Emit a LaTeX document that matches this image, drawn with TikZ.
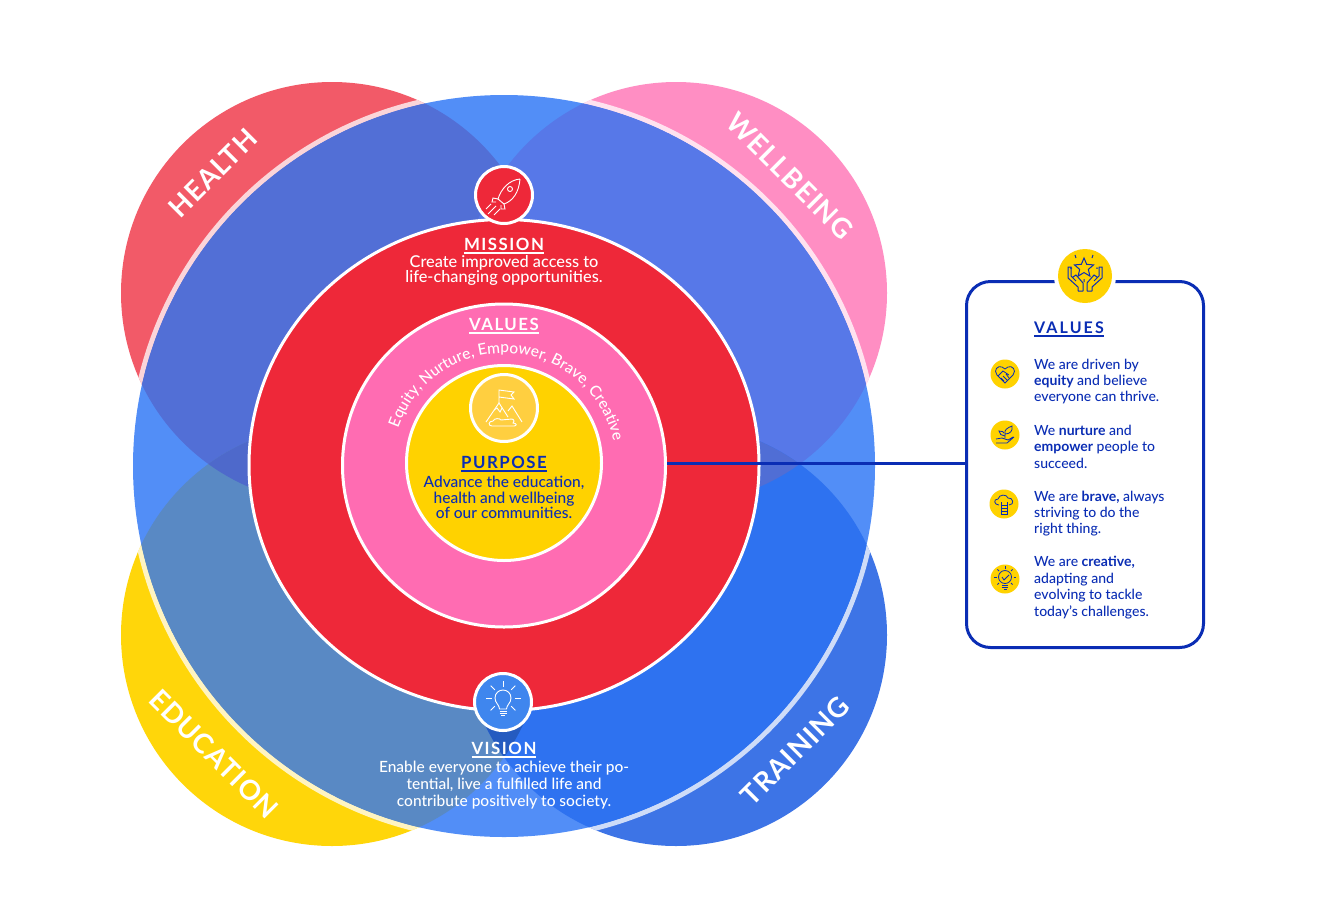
\documentclass[tikz,border=0pt]{standalone}
\usepackage{fontspec}
\usetikzlibrary{shapes.geometric,decorations.text}
\setmainfont{Lato Medium}[BoldFont={Lato Bold}]
\newfontfamily\headfont[LetterSpace=9]{Lato Bold}
\newfontfamily\boxheadfont[LetterSpace=13]{Lato Bold}
\newfontfamily\cornerfont[LetterSpace=4]{Lato Bold}
\definecolor{healthred}{HTML}{F25A68}
\definecolor{healthover}{HTML}{526FD6}
\definecolor{wellpink}{HTML}{FF8EC3}
\definecolor{wellover}{HTML}{5778E8}
\definecolor{eduyellow}{HTML}{FFD60A}
\definecolor{eduover}{HTML}{5989C4}
\definecolor{trainblue}{HTML}{3D74E6}
\definecolor{trainover}{HTML}{2E72F0}
\definecolor{skyblue}{HTML}{528EF7}
\definecolor{missionred}{HTML}{EE2839}
\definecolor{valuespink}{HTML}{FF6CB2}
\definecolor{purposegold}{HTML}{FFD200}
\definecolor{flagbadge}{HTML}{FFCF40}
\definecolor{visionbadgeblue}{HTML}{3F86EE}
\definecolor{inkblue}{HTML}{0A2DB4}
\newcommand{\underhead}[1]{\setbox0=\hbox{#1}\leavevmode\rlap{\rule[-2.8pt]{\wd0}{1.3pt}}\box0}
\begin{document}
\begin{tikzpicture}[x=1pt,y=-1pt]
\tikzstyle{corner} = [circle, minimum size=422, inner sep=0pt] % four outer discs
\tikzstyle{ring} = [circle, draw=white, line width=3pt, inner sep=0pt] % inner rings
\tikzstyle{badge} = [circle, draw=white, line width=3pt, minimum size=57, inner sep=0pt] % top and bottom badge
\tikzstyle{minibadge} = [circle, fill=purposegold, minimum size=29, inner sep=0pt] % icons of the list
\tikzstyle{cornerlabel} = [text=white, font=\cornerfont\fontsize{27.5}{28}\selectfont]
\tikzstyle{head} = [text=white, font=\headfont\fontsize{16.8}{16.8}\selectfont]
\tikzstyle{body} = [text=white, align=center, font=\fontsize{15.5}{15.5}\selectfont]
\tikzstyle{listitem} = [text=inkblue, anchor=west, align=left, inner sep=0pt, font=\fontsize{14}{16.4}\selectfont]
\tikzstyle{whiteicon} = [white, line width=.9pt]
\tikzstyle{blueicon} = [inkblue, line width=.8pt]

\useasboundingbox (0,0) rectangle (1319,908);

\node[corner, fill=healthred] (healthdisc) at (332,293) {};
\node[corner, fill=wellpink] (welldisc) at (676,293) {};
\node[corner, fill=eduyellow] (edudisc) at (332,635) {};
\node[corner, fill=trainblue] (traindisc) at (676,635) {};
\node[circle, fill=skyblue, minimum size=742, inner sep=0pt] (bigdisc) at (504,466) {};

% pale edge of the big disc, only over the outer discs
\foreach \disc in {healthdisc,welldisc,edudisc,traindisc} {
  \begin{scope}
    \clip (\disc) circle (211);
    \draw[white, opacity=.75, line width=5pt] (bigdisc) circle (373.5);
  \end{scope}
}

\begin{scope} % parts of the outer discs seen through the big one
  \clip (bigdisc) circle (371);
  \fill[healthover] (healthdisc) circle (211);
  \fill[wellover] (welldisc) circle (211);
  \fill[eduover] (edudisc) circle (211);
  \fill[trainover] (traindisc) circle (211);
  \begin{scope} \clip (healthdisc) circle (211); \fill[color=healthover!95!black] (edudisc) circle (211); \end{scope}
  \begin{scope} \clip (welldisc) circle (211); \fill[color=wellover!92!black] (traindisc) circle (211); \end{scope}
  \begin{scope} \clip (edudisc) circle (211); \fill[color=trainover!80!black] (traindisc) circle (211); \end{scope}
\end{scope}

\node[ellipse, draw=white, line width=3pt, fill=missionred, minimum width=510, minimum height=491, inner sep=0pt] (missionring) at (504,465) {};
\node[ring, fill=valuespink, minimum size=323] (valuesring) at (504,465.5) {};
\node[ring, fill=purposegold, minimum size=195] (purposering) at (504,463) {};
\node[badge, fill=missionred] (missionbadge) at (504,195) {};
\node[badge, fill=visionbadgeblue] (visionbadge) at (503,702) {};
\node[badge, fill=flagbadge, minimum size=67] (purposebadge) at (504,408) {};

\node[cornerlabel, rotate=45] (healthlabel) at (213,173) {HEALTH};
\node[cornerlabel, rotate=-45] (welllabel) at (790,176) {WELLBEING};
\node[cornerlabel, rotate=-45] (edulabel) at (214,754) {EDUCATION};
\node[cornerlabel, rotate=45] (trainlabel) at (795,751) {TRAINING};

\node[head] (missionhead) at (504,246) {\underhead{MISSION}};
\node[body, font=\fontsize{16.3}{15}\selectfont] (missiontext) at (504,270) {Create improved access to\\life-changing opportunities.};
\node[head] (valueshead) at (504,326) {\underhead{VALUES}};
\path[decorate, decoration={text along path, text align=center,
  text={|\fontsize{15.5}{15.5}\selectfont\color{white}|Equity, Nurture, Empower, Brave, Creative}}]
  (504,465) ++(-160:112) arc [start angle=-160, end angle=-13, radius=112];
\node[head, text=inkblue] (purposehead) at (504,464) {\underhead{PURPOSE}};
\node[body, text=inkblue] (purposetext) at (504,497.5) {Advance the education,\\health and wellbeing\\of our communities.};
\node[head] (visionhead) at (504,750) {\underhead{VISION}};
\node[body, font=\fontsize{15.5}{17}\selectfont] (visiontext) at (504,785) {Enable everyone to achieve their po-\\tential, live a fulfilled life and\\contribute positively to society.};

% value box on the right
\node[draw=inkblue, line width=3pt, fill=white, rounded corners=24pt, minimum width=237, minimum height=366, inner sep=0pt] (valuesbox) at (1085,464.5) {};
\node[circle, fill=white, minimum size=62, inner sep=0pt] (boxgap) at (1085,276) {};
\node[circle, fill=purposegold, minimum size=54, inner sep=0pt] (handsbadge) at (1085,276) {};
\draw[inkblue, line width=3pt] (valuesring.east |- purposering.east) -- (purposering.east -| valuesbox.west);

\node[head, text=inkblue, anchor=west, inner sep=0pt, font=\boxheadfont\fontsize{16}{16}\selectfont] (boxhead) at (1034,329.5) {\underhead{VALUES}};
\node[minibadge] (heartbadge) at (1005,374) {};
\node[minibadge] (plantbadge) at (1005,435) {};
\node[minibadge] (cloudbadge) at (1004,504) {};
\node[minibadge] (bulbbadge) at (1005,579) {};
\node[listitem] (equityitem) at (1034,381.5) {We are driven by\\\textbf{equity} and believe\\everyone can thrive.};
\node[listitem] (nurtureitem) at (1034,446.5) {We \textbf{nurture} and\\\textbf{empower} people to\\succeed.};
\node[listitem] (braveitem) at (1034,513.5) {We are \textbf{brave,} always\\striving to do the\\right thing.};
\node[listitem] (creativeitem) at (1034,587.5) {We are \textbf{creative,}\\adapting and\\evolving to tackle\\today’s challenges.};

% rocket
\begin{scope}[shift={(missionbadge)}, whiteicon]
  \draw (16,-16) .. controls (5,-15) and (-3,-6) .. (-6,4) -- (0,9) .. controls (9,6) and (15,-3) .. (16,-16);
  \draw (6,-6) circle (2.5);
  \draw (-6,4) -- (-11,3) -- (-12,7) -- (-8,7);
  \draw (0,9) -- (1,14) -- (-3,14) -- (-3,10);
  \draw (-8,11) -- (-16,19) (-13,9) -- (-18,14) (-4,14) -- (-10,20);
\end{scope}
% mountain with flag
\begin{scope}[shift={(purposebadge)}, whiteicon]
  \draw (-5,-5) -- (-5,-18) -- (10,-16) -- (7,-13) -- (10,-9) -- (-5,-11);
  \draw (-18,14) -- (-5,-5) -- (4,9) (4,3) -- (8,-2) -- (18,14);
  \draw (-10,2) -- (-7,0) -- (-4,4) -- (-2,0);
  \draw (-12,18) .. controls (-16,18) and (-16,13) .. (-11,13) .. controls (-10,10) and (-4,10) .. (-3,12) -- (8,11) .. controls (11,12) and (10,14) .. (9,15) .. controls (13,15) and (13,18) .. (10,18) -- cycle;
\end{scope}
% lightbulb
\begin{scope}[shift={(visionbadge)}, whiteicon]
  \draw (-3.5,7) .. controls (-3.5,3) and (-8,1) .. (-8,-4) .. controls (-8,-9) and (-4,-12) .. (0,-12) .. controls (4,-12) and (8,-9) .. (8,-4) .. controls (8,1) and (3.5,3) .. (3.5,7) -- cycle;
  \draw (-3.5,9) -- (3.5,9) (-3.5,11) -- (3.5,11) (-2,13) -- (2,13);
  \foreach \a in {-90,-45,0,45,135,180,-135}
    \draw (0,-4) ++(\a:11.5) -- ++(\a:6);
\end{scope}
% hands with star
\begin{scope}[shift={(handsbadge)}, blueicon, line width=1pt]
  \node[star, star points=5, star point ratio=2.2, draw=inkblue, line width=1pt, minimum size=20, inner sep=0pt] (handstar) at (-1,-8) {};
  \draw (-9,-18) -- (-10,-21) (7,-18) -- (8,-21) (-13,-8) -- (-15,-8) (11,-8) -- (13,-8) (-1,3) -- (-1,6);
  \foreach \s in {1,-1}
    \draw[xscale=\s] (-7,15) -- (-7,11) -- (-17,2) -- (-17,-9) -- (-14,-9) -- (-14,0) -- (-9,5) (-2,15) -- (-2,7) -- (-9,-1) -- (-12,1) (-7,15) -- (-2,15);
\end{scope}
% heart and handshake
\begin{scope}[shift={(heartbadge)}, blueicon]
  \draw (0,9) -- (-8,1) .. controls (-12,-4) and (-7,-9) .. (-3,-7) -- (0,-5) -- (3,-7) .. controls (7,-9) and (12,-4) .. (8,1) -- cycle;
  \draw (-7,2) -- (-2,-3) -- (4,1) (-4,4) -- (-1,7) (-2,2) -- (2,6) (1,0) -- (4,4);
\end{scope}
% hand and plant
\begin{scope}[shift={(plantbadge)}, blueicon]
  \draw (-9,4) -- (-3,3) -- (3,5) -- (8,2) (-9,8) -- (-3,8) -- (2,8) -- (9,2);
  \draw (0,3) -- (0,-1) .. controls (-1,-5) and (2,-7) .. (7,-9) .. controls (8,-4) and (5,-1) .. (0,-1);
  \draw (0,1) .. controls (-3,1) and (-6,-1) .. (-6,-4) .. controls (-3,-4) and (-1,-3) .. (-1,-2);
\end{scope}
% cloud and ladder
\begin{scope}[shift={(cloudbadge)}, blueicon]
  \draw (-5,1) .. controls (-10,1) and (-11,-5) .. (-6,-5) .. controls (-5,-10) and (3,-10) .. (4,-6) .. controls (9,-7) and (11,1) .. (5,1);
  \draw (-3,-2) -- (-3,11) (3,-2) -- (3,11);
  \foreach \r in {1,4,7,10}
    \draw (-3,\r) -- (3,\r);
\end{scope}
% bulb with check
\begin{scope}[shift={(bulbbadge)}, blueicon]
  \draw (0,-2) circle (6.5);
  \draw (-3,-2) -- (-1,1) -- (4,-4);
  \draw (-3,6) -- (3,6) (-3,8) -- (3,8) (-1.5,10) -- (1.5,10);
  \foreach \a in {-90,-45,0,45,135,180,-135}
    \draw (0,-2) ++(\a:8.5) -- ++(\a:2.2);
\end{scope}
\end{tikzpicture}
\end{document}
